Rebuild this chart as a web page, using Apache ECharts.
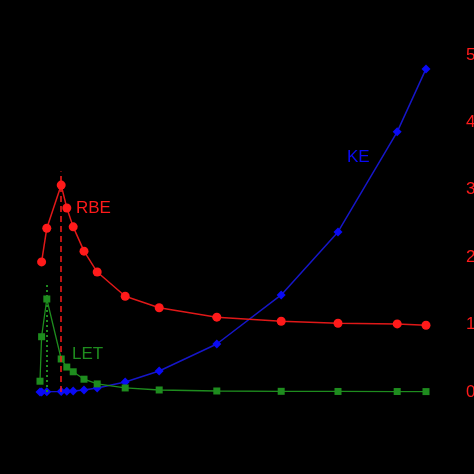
<!DOCTYPE html>
<html>
<head>
<meta charset="utf-8">
<script src="https://cdn.jsdelivr.net/npm/echarts@6/dist/echarts.min.js"></script>
<style>
  html, body { margin: 0; padding: 0; background: #000; }
  #chart { width: 474px; height: 474px; }
</style>
</head>
<body>
<div id="chart"></div>
<script>
// x positions shared by all three curves
var xVals = [0, 0.4, 1.7, 5.3, 6.7, 8.3, 11, 14.3, 21.3, 29.8, 44.2, 60.3, 74.5, 89.3, 96.5]
// RBE (right axis), no point at the first x
var rbe = [null, 1.93, 2.43, 3.07, 2.73, 2.45, 2.09, 1.78, 1.42, 1.25, 1.11, 1.05, 1.02, 1.01, 0.99]
// LET (hidden axis)
var let_ = [1.6, 8.2, 13.8, 4.9, 3.7, 3.0, 1.9, 1.2, 0.6, 0.3, 0.15, 0.1, 0.08, 0.07, 0.06]
// KE (hidden axis)
var ke = [0, 0, 0.2, 0.3, 0.5, 0.8, 1.4, 3, 7.4, 15.6, 35.6, 72, 118.7, 193, 239.7]
var rbeTicks = [0, 1, 2, 3, 4, 5]

// vertical markers
var rbePeakX = 5.3, rbePeakTop = 3.27
var letPeakX = 1.7, letPeakTop = 16.3

function pairs(ys) {
  return xVals.map(function (x, i) { return ys[i] == null ? null : [x, ys[i]] }).filter(function (p) { return p })
}

var chart = echarts.init(document.getElementById('chart'))
chart.setOption({
  backgroundColor: '#000',
  animation: false,
  grid: { left: 40, right: 18, top: 55, bottom: 82, containLabel: false, outerBoundsMode: 'none' },
  xAxis: { type: 'value', min: 0, max: 104, show: false },
  yAxis: [
    {
      type: 'value', position: 'right', min: 0, max: 5, interval: 1,
      axisLine: { show: false }, axisTick: { show: false }, splitLine: { show: false },
      axisLabel: { color: '#ff1a1a', fontSize: 17, fontFamily: 'Liberation Sans', margin: 10,
        formatter: function (v) { return rbeTicks.indexOf(v) >= 0 ? String(v) : '' } }
    },
    { type: 'value', min: 0, max: 50, show: false },
    { type: 'value', min: 0, max: 250, show: false }
  ],
  series: [
    {
      name: 'KE', type: 'line', yAxisIndex: 2, data: pairs(ke),
      symbol: 'diamond', symbolSize: 9,
      itemStyle: { color: '#0a0af5' },
      lineStyle: { color: '#1616c8', width: 1.5 }
    },
    {
      name: 'LET', type: 'line', yAxisIndex: 1, data: pairs(let_),
      symbol: 'rect', symbolSize: 7,
      itemStyle: { color: '#1e8c1e' },
      lineStyle: { color: '#1e8c1e', width: 1.3 },
      markLine: {
        symbol: 'none', silent: true, label: { show: false },
        lineStyle: { color: '#1e8c1e', type: [2, 3], width: 2 },
        data: [[{ coord: [letPeakX, 0] }, { coord: [letPeakX, letPeakTop] }]]
      }
    },
    {
      name: 'RBE', type: 'line', yAxisIndex: 0, data: pairs(rbe),
      symbol: 'circle', symbolSize: 9,
      itemStyle: { color: '#ff1a1a' },
      lineStyle: { color: '#e01818', width: 1.5 },
      markLine: {
        symbol: 'none', silent: true, label: { show: false },
        lineStyle: { color: '#ff1a1a', type: [6, 4], width: 1.5 },
        data: [[{ coord: [rbePeakX, 0] }, { coord: [rbePeakX, rbePeakTop] }]]
      }
    }
  ],
  graphic: [
    { type: 'text', left: 76, top: 200, style: { text: 'RBE', fill: '#ff1a1a', font: '17px "Liberation Sans"' } },
    { type: 'text', left: 72, top: 346, style: { text: 'LET', fill: '#1e8c1e', font: '17px "Liberation Sans"' } },
    { type: 'text', left: 347, top: 149, style: { text: 'KE', fill: '#0a0af5', font: '17px "Liberation Sans"' } }
  ]
})
</script>
</body>
</html>
